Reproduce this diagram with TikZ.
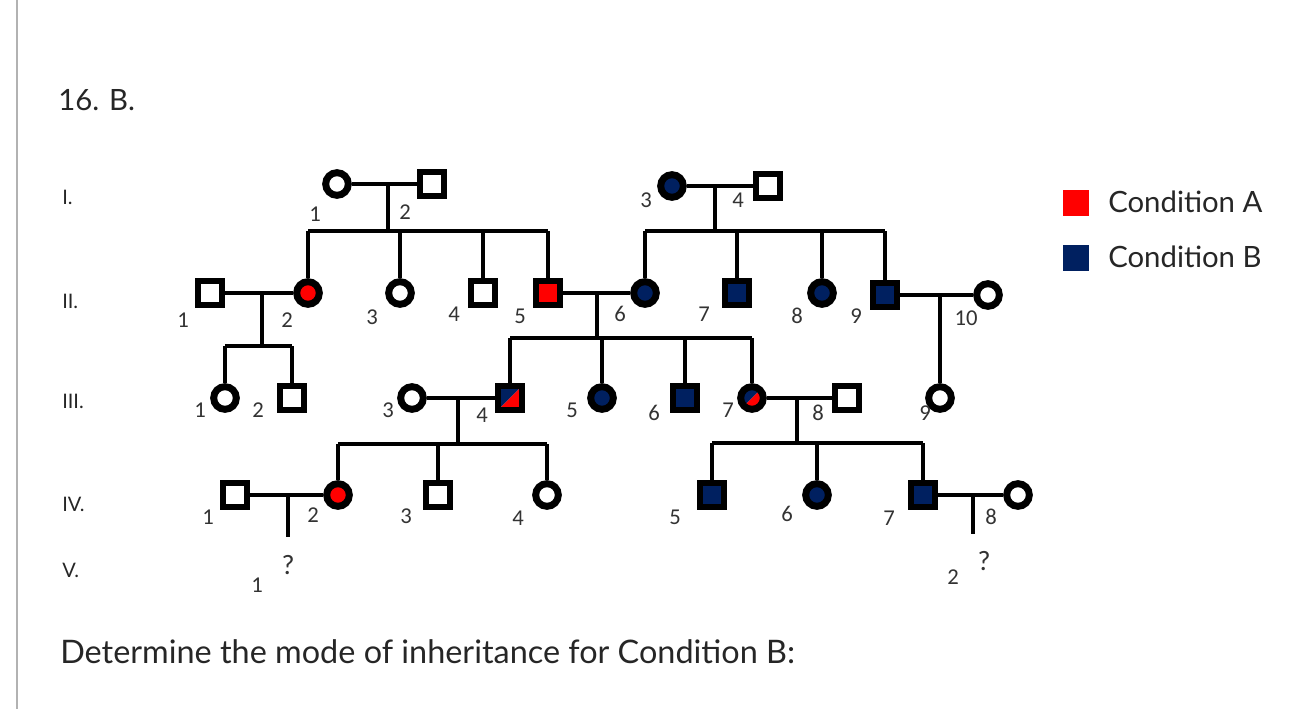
\documentclass[tikz,border=0pt]{standalone}
\usepackage{fontspec}
\setmainfont{Lato}
\newfontfamily\carl{Carlito}
\definecolor{cA}{HTML}{FF0000}
\definecolor{cB}{HTML}{002060}
\begin{document}
\begin{tikzpicture}[x=0.75pt,y=-0.75pt,
  f/.style={circle,draw,line width=5.2pt,minimum size=17pt,inner sep=0pt,fill=white},
  m/.style={rectangle,draw,line width=5.2pt,minimum size=18pt,inner sep=0pt,fill=white},
  A/.style={fill=cA}, B/.style={fill=cB},
  AB/.style={path picture={
     \fill[cB] (path picture bounding box.south west) -- (path picture bounding box.north west) -- (path picture bounding box.north east) -- cycle;
     \fill[cA] (path picture bounding box.south west) -- (path picture bounding box.south east) -- (path picture bounding box.north east) -- cycle;}},
  ln/.style={line width=2.8pt},
  lb/.style={font=\carl\fontsize{17}{17}\selectfont,text=black!80,inner sep=0pt},
  qm/.style={font=\carl\fontsize{21}{21}\selectfont,text=black!80,inner sep=0pt},
  gen/.style={font=\fontsize{15}{15}\selectfont,anchor=west,inner sep=0pt,text=black!85}]
\useasboundingbox (0,0) rectangle (1307,709);
\draw[gray!60,line width=1pt] (17,0) -- (17,709);
\node[font=\fontsize{22}{22}\selectfont,anchor=west,inner sep=0pt,text=black!85] (title) at (58,100) {16. B.};
\node[font=\fontsize{24.3}{24.3}\selectfont,anchor=west,inner sep=0pt,text=black!85] (q) at (60,652) {Determine the mode of inheritance for Condition B:};
\node[gen] (g1) at (62,197) {I.};
\node[gen] (g2) at (62,301) {II.};
\node[gen] (g3) at (62,401) {III.};
\node[gen] (g4) at (62,504) {IV.};
\node[gen] (g5) at (62,570) {V.};
% legend
\node[rectangle,fill=cA,minimum size=20pt,inner sep=0pt] (legA) at (1076,203) {};
\node[rectangle,fill=cB,minimum size=20pt,inner sep=0pt] (legB) at (1076,258) {};
\node[font=\fontsize{22}{22}\selectfont,anchor=west,inner sep=0pt,text=black!85] (tA) at (1108,202) {Condition A};
\node[font=\fontsize{22}{22}\selectfont,anchor=west,inner sep=0pt,text=black!85] (tB) at (1108,257) {Condition B};
% Gen I
\node[f] (I1) at (337,184) {};
\node[m] (I2) at (432,184) {};
\node[f,B] (I3) at (672,186) {};
\node[m] (I4) at (768,186) {};
% Gen II
\node[m] (II1) at (210,293) {};
\node[f,A] (II2) at (308,293) {};
\node[f] (II3) at (400,293) {};
\node[m] (II4) at (483,293) {};
\node[m,A] (II5) at (548,293) {};
\node[f,B] (II6) at (645,293) {};
\node[m,B] (II7) at (737,293) {};
\node[f,B] (II8) at (822,293) {};
\node[m,B] (II9) at (885,295) {};
\node[f] (II10) at (988,295) {};
% Gen III
\node[f] (III1) at (225,398) {};
\node[m] (III2) at (292,398) {};
\node[f] (III3) at (412,398) {};
\node[m,AB] (III4) at (510,398) {};
\node[f,B] (III5) at (602,398) {};
\node[m,B] (III6) at (685,398) {};
\node[f,AB] (III7) at (752,398) {};
\node[m] (III8) at (847,398) {};
\node[f] (III9) at (940,398) {};
% Gen IV
\node[m] (IV1) at (235,495) {};
\node[f,A] (IV2) at (338,495) {};
\node[m] (IV3) at (438,495) {};
\node[f] (IV4) at (547,495) {};
\node[m,B] (IV5) at (712,495) {};
\node[f,B] (IV6) at (817,495) {};
\node[m,B] (IV7) at (923,495) {};
\node[f] (IV8) at (1018,495) {};
% coordinates
\coordinate (mI12) at (388,184); \coordinate (sI12) at (388,231);
\coordinate (mI34) at (715,186); \coordinate (sI34) at (715,231);
\coordinate (mII12) at (262,293); \coordinate (sII12) at (262,346);
\coordinate (mII56) at (597,293); \coordinate (sII56) at (597,338);
\coordinate (mII910) at (940,295);
\coordinate (mIII34) at (458,398); \coordinate (sIII34) at (458,444);
\coordinate (mIII78) at (797,398); \coordinate (sIII78) at (797,443);
\coordinate (mIV12) at (288,495); \coordinate (eV1) at (288,537);
\coordinate (mIV78) at (973,495); \coordinate (eV2) at (973,534);
\begin{scope}[ln]
\draw (I1) -- (I2); \draw (mI12) -- (sI12);
\draw (II2 |- sI12) -- (II5 |- sI12);
\draw (I3) -- (I4); \draw (mI34) -- (sI34);
\draw (II6 |- sI34) -- (II9 |- sI34);
\draw (II2.north) -- (II2 |- sI12);
\draw (II3.north) -- (II3 |- sI12);
\draw (II4.north) -- (II4 |- sI12);
\draw (II5.north) -- (II5 |- sI12);
\draw (II6.north) -- (II6 |- sI34);
\draw (II7.north) -- (II7 |- sI34);
\draw (II8.north) -- (II8 |- sI34);
\draw (II9.north) -- (II9 |- sI34);
\draw (II1) -- (II2); \draw (mII12) -- (sII12);
\draw (III1 |- sII12) -- (III2 |- sII12);
\draw (III1.north) -- (III1 |- sII12);
\draw (III2.north) -- (III2 |- sII12);
\draw (II5) -- (II6); \draw (mII56) -- (sII56);
\draw (III4 |- sII56) -- (III7 |- sII56);
\draw (III4.north) -- (III4 |- sII56);
\draw (III5.north) -- (III5 |- sII56);
\draw (III6.north) -- (III6 |- sII56);
\draw (III7.north) -- (III7 |- sII56);
\draw (II9) -- (II10); \draw (mII910) -- (III9.north);
\draw (III3) -- (III4); \draw (mIII34) -- (sIII34);
\draw (IV2 |- sIII34) -- (IV4 |- sIII34);
\draw (IV2.north) -- (IV2 |- sIII34);
\draw (IV3.north) -- (IV3 |- sIII34);
\draw (IV4.north) -- (IV4 |- sIII34);
\draw (III7) -- (III8); \draw (mIII78) -- (sIII78);
\draw (IV5 |- sIII78) -- (IV7 |- sIII78);
\draw (IV5.north) -- (IV5 |- sIII78);
\draw (IV6.north) -- (IV6 |- sIII78);
\draw (IV7.north) -- (IV7 |- sIII78);
\draw (IV1) -- (IV2); \draw (mIV12) -- (eV1);
\draw (IV7) -- (IV8); \draw (mIV78) -- (eV2);
\end{scope}
% labels
\node[lb] at (315,214) {1}; \node[lb] at (405,212) {2};
\node[lb] at (646,200) {3}; \node[lb] at (738,200) {4};
\node[lb] at (183,320) {1}; \node[lb] at (287,320) {2}; \node[lb] at (372,317) {3};
\node[lb] at (454,314) {4}; \node[lb] at (520,316) {5}; \node[lb] at (620,314) {6};
\node[lb] at (704,314) {7}; \node[lb] at (797,316) {8}; \node[lb] at (856,316) {9};
\node[lb] at (966,318) {10};
\node[lb] at (200,410) {1}; \node[lb] at (258,410) {2}; \node[lb] at (388,410) {3};
\node[lb] at (482,415) {4}; \node[lb] at (572,410) {5}; \node[lb] at (654,413) {6};
\node[lb] at (728,410) {7}; \node[lb] at (818,413) {8}; \node[lb] at (925,413) {9};
\node[lb] at (208,517) {1}; \node[lb] at (313,515) {2}; \node[lb] at (406,516) {3};
\node[lb] at (518,518) {4}; \node[lb] at (675,517) {5}; \node[lb] at (787,514) {6};
\node[lb] at (889,518) {7}; \node[lb] at (991,517) {8};
\node[qm] at (288,565) {?}; \node[lb] at (257,585) {1};
\node[qm] at (984,561) {?}; \node[lb] at (953,577) {2};
\end{tikzpicture}
\end{document}
